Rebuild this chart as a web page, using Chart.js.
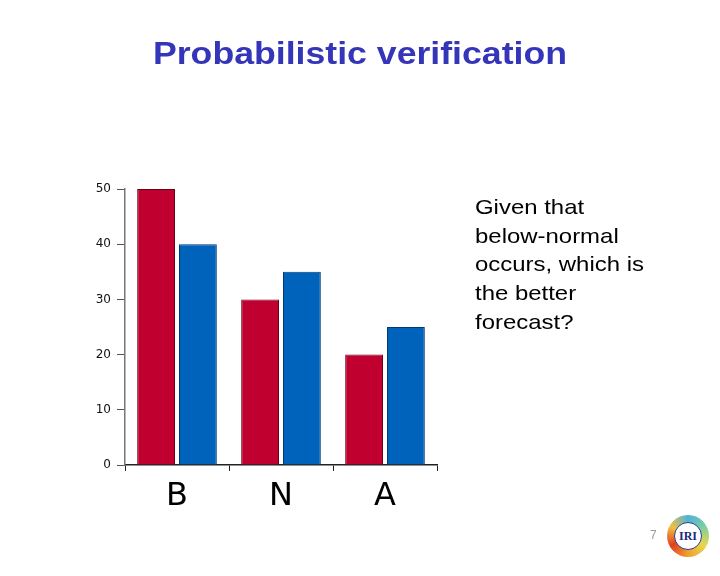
<!DOCTYPE html>
<html>
<head>
<meta charset="utf-8">
<script src="https://cdn.jsdelivr.net/npm/chart.js@4"></script>
<style>
  html, body { margin: 0; padding: 0; background: #fff; }
  #page { position: relative; width: 720px; height: 576px; overflow: hidden; font-family: "Liberation Sans", Arial, sans-serif; }
  #title { position: absolute; left: 0; width: 720px; top: 36px; text-align: center; font-size: 31px; font-weight: bold; color: #3535b9;
           transform: scaleX(1.15); transform-origin: 360px 0; }
  #note { position: absolute; left: 475px; top: 193px; font-size: 21px; line-height: 28.7px; color: #000;
          transform: scaleX(1.14); transform-origin: 0 0; }
  #pnum { position: absolute; left: 650px; top: 528px; font-size: 12px; color: #999; }
  #logo { position: absolute; left: 667px; top: 515px; width: 42px; height: 42px; border-radius: 50%;
          background: conic-gradient(#4fb3d9, #7ccfa0, #e8d84a, #f0a030, #e04020, #f0c040, #4fb3d9); }
  #logo div { position: absolute; left: 7px; top: 7px; width: 28px; height: 28px; border-radius: 50%; background: #fff;
              border: 1px solid #2a3a8a; box-sizing: border-box; font: bold 12px "Liberation Serif", serif; color: #1a2a7a;
              text-align: center; line-height: 26px; }
  #wrap { position: absolute; left: 0; top: 0; width: 720px; height: 576px; }
</style>
</head>
<body>
<div id="page">
  <div id="wrap"><canvas id="chart"></canvas></div>
  <div id="title">Probabilistic verification</div>
  <div id="note">Given that<br>below-normal<br>occurs, which is<br>the better<br>forecast?</div>
  <div id="pnum">7</div>
  <div id="logo"><div>IRI</div></div>
</div>
<script>
const categories = ["B", "N", "A"];
const forecastOne = [50, 30, 20];
const forecastTwo = [40, 35, 25];
const yTicks = [0, 10, 20, 30, 40, 50];

const ctx = document.getElementById('chart').getContext('2d');

new Chart(ctx, {
  type: 'bar',
  data: {
    labels: categories,
    datasets: [
      { label: 'Forecast 1', data: forecastOne, backgroundColor: '#c0002f', borderColor: '#6a0019', borderWidth: 1 },
      { label: 'Forecast 2', data: forecastTwo, backgroundColor: '#0063bb', borderColor: '#003a70', borderWidth: 1 }
    ]
  },
  options: {
    responsive: true,
    maintainAspectRatio: false,
    animation: false,
    categoryPercentage: 0.804,
    barPercentage: 0.905,
    layout: { padding: { left: 75, right: 283, top: 189, bottom: 61 } },
    plugins: { legend: { display: false }, tooltip: { enabled: false } },
    scales: {
      x: {
        afterFit: (s) => { s.height = 50; },
        border: { display: true, color: '#222', width: 1.5 },
        grid: { offset: true, drawOnChartArea: false, drawTicks: true, tickLength: 6, color: '#222' },
        ticks: { color: '#000', padding: 6, font: { family: 'DejaVu Sans', size: 32 } }
      },
      y: {
        min: 0,
        max: 50,
        afterFit: (s) => { s.width = 50; },
        afterBuildTicks: (s) => { s.ticks = yTicks.map(v => ({ value: v })); },
        border: { display: true, color: '#777', width: 1.5 },
        grid: { drawOnChartArea: false, drawTicks: true, tickLength: 8, color: '#555' },
        ticks: { color: '#111', padding: 6, font: { family: 'DejaVu Sans', size: 12 } }
      }
    }
  }
});
</script>
</body>
</html>
